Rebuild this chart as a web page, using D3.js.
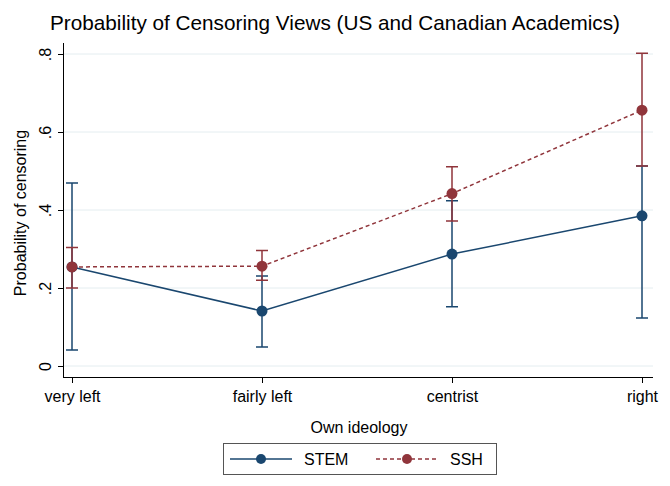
<!DOCTYPE html>
<meta charset="utf-8">
<style>
  body { margin: 0; background: #fff; }
  svg { display: block; font-family: "Liberation Sans", Arial, sans-serif; }
  .grid line { stroke: #e4edf0; stroke-width: 1; }
  .axis path, .axis line { stroke: #000; }
  .axis text { font-size: 16px; fill: #000; }
</style>
<body>
<div id="chart"></div>
<script src="https://d3js.org/d3.v7.min.js"></script>
<script>
// categories on the x axis
const ideology = ["very left", "fairly left", "centrist", "right"];
const yTicks = [0, 0.2, 0.4, 0.6, 0.8];
const yTickLabels = ["0", ".2", ".4", ".6", ".8"];

// STEM estimates and 95% CI
const stemEst = [0.254, 0.141, 0.287, 0.385];
const stemLo  = [0.041, 0.049, 0.152, 0.123];
const stemHi  = [0.469, 0.231, 0.424, 0.513];

// SSH estimates and 95% CI
const sshEst = [0.254, 0.256, 0.442, 0.656];
const sshLo  = [0.200, 0.220, 0.372, 0.513];
const sshHi  = [0.304, 0.296, 0.511, 0.802];

const series = [
  { name: "STEM", est: stemEst, lo: stemLo, hi: stemHi, color: "#1a476f", dash: null },
  { name: "SSH",  est: sshEst,  lo: sshLo,  hi: sshHi,  color: "#90353b", dash: "4,3" }
];

const width = 670, height = 486;
const plot = { left: 64, right: 653, top: 43, bottom: 377 };

const svg = d3.select("#chart").append("svg")
  .attr("width", width)
  .attr("height", height);

const x = d3.scalePoint()
  .domain(ideology)
  .range([72, 642]);

const y = d3.scaleLinear()
  .domain([0, 0.8])
  .range([366, 54]);

// gridlines
svg.append("g")
  .attr("class", "grid")
  .selectAll("line")
  .data(yTicks)
  .join("line")
  .attr("x1", plot.left)
  .attr("x2", plot.right)
  .attr("y1", d => y(d))
  .attr("y2", d => y(d));

// y axis
const yAxis = d3.axisLeft(y)
  .tickValues(yTicks)
  .tickFormat((d, i) => yTickLabels[i])
  .tickSize(6)
  .tickPadding(5);

const gy = svg.append("g")
  .attr("class", "axis")
  .attr("transform", `translate(${plot.left},0)`)
  .call(yAxis);
gy.select(".domain").attr("d", `M-0.5,${plot.top}V${plot.bottom}`);
gy.selectAll(".tick text")
  .attr("transform", "rotate(-90)")
  .attr("x", 0)
  .attr("y", -13)
  .attr("text-anchor", "middle")
  .attr("dy", 0);

// x axis
const xAxis = d3.axisBottom(x)
  .tickSize(6)
  .tickPadding(5);

const gx = svg.append("g")
  .attr("class", "axis")
  .attr("transform", `translate(0,${plot.bottom})`)
  .call(xAxis);
gx.select(".domain").attr("d", `M${plot.left - 1},0.5H${plot.right}`);
gx.selectAll(".tick text").attr("dy", "0.9em");

// axis titles
svg.append("text")
  .attr("transform", `translate(26,${(plot.top + plot.bottom) / 2 + 3}) rotate(-90)`)
  .attr("text-anchor", "middle")
  .attr("font-size", 16)
  .text("Probability of censoring");

svg.append("text")
  .attr("x", 359)
  .attr("y", 433)
  .attr("text-anchor", "middle")
  .attr("font-size", 16)
  .text("Own ideology");

// title, centred on the figure
svg.append("text")
  .attr("x", width / 2)
  .attr("y", 30)
  .attr("text-anchor", "middle")
  .attr("font-size", 21)
  .attr("textLength", 570)
  .attr("lengthAdjust", "spacingAndGlyphs")
  .text("Probability of Censoring Views (US and Canadian Academics)");

// series: error bars, lines, markers
const line = d3.line()
  .x((d, i) => x(ideology[i]))
  .y(d => y(d));

series.forEach(s => {
  const g = svg.append("g");
  const cap = 6;

  g.selectAll(".ci")
    .data(ideology)
    .join("path")
    .attr("fill", "none")
    .attr("stroke", s.color)
    .attr("stroke-width", 1.5)
    .attr("d", (c, i) => {
      const cx = x(c), lo = y(s.lo[i]), hi = y(s.hi[i]);
      return `M${cx - cap},${hi}H${cx + cap}M${cx},${hi}V${lo}M${cx - cap},${lo}H${cx + cap}`;
    });

  g.append("path")
    .datum(s.est)
    .attr("fill", "none")
    .attr("stroke", s.color)
    .attr("stroke-width", 1.5)
    .attr("stroke-dasharray", s.dash)
    .attr("d", line);

  g.selectAll("circle")
    .data(s.est)
    .join("circle")
    .attr("cx", (d, i) => x(ideology[i]))
    .attr("cy", d => y(d))
    .attr("r", 5.5)
    .attr("fill", s.color);
});

// legend
const legend = svg.append("g");
legend.append("rect")
  .attr("x", 223.5)
  .attr("y", 443.5)
  .attr("width", 273)
  .attr("height", 31)
  .attr("fill", "#fff")
  .attr("stroke", "#555");

const legendX = [230, 376];
series.forEach((s, i) => {
  const lx = legendX[i], ly = 459;
  legend.append("line")
    .attr("x1", lx).attr("x2", lx + 62)
    .attr("y1", ly).attr("y2", ly)
    .attr("stroke", s.color)
    .attr("stroke-width", 1.5)
    .attr("stroke-dasharray", s.dash);
  legend.append("circle")
    .attr("cx", lx + 31).attr("cy", ly)
    .attr("r", 5)
    .attr("fill", s.color);
  legend.append("text")
    .attr("x", i === 0 ? 304 : 450)
    .attr("y", ly + 6)
    .attr("font-size", 16)
    .text(s.name);
});
</script>
</body>
</html>
